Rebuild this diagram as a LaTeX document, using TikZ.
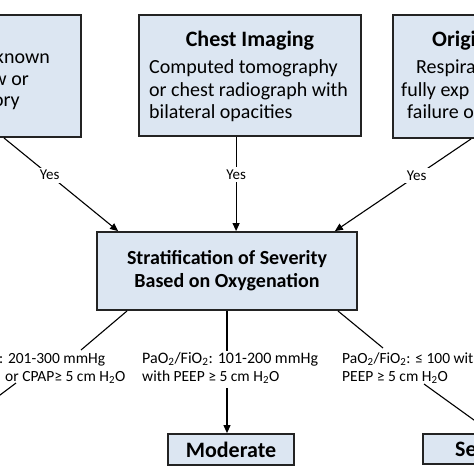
\documentclass[tikz,border=0pt]{standalone}
\usepackage{fontspec}
\setmainfont{Carlito}
\usetikzlibrary{arrows.meta,calc}
\definecolor{boxblue}{RGB}{220,230,242}
\definecolor{boxline}{RGB}{35,35,35}
\begin{document}
\begin{tikzpicture}[x=1pt,y=-1pt,
  box/.style={draw=boxline, fill=boxblue, line width=1.8pt, inner sep=0pt},
  body/.style={font=\fontsize{20}{22.5}\selectfont, inner sep=0pt, anchor=base west},
  ttl/.style={font=\bfseries\fontsize{22}{26}\selectfont, inner sep=0pt, anchor=base},
  yes/.style={font=\fontsize{15}{17}\selectfont, fill=white, inner sep=2.5pt},
  crit/.style={font=\fontsize{15.5}{18}\selectfont, inner sep=0pt, anchor=base west},
  conn/.style={line width=1.1pt, draw=black},
  arr/.style={conn, -{Triangle[length=8pt,width=7pt]}}]
\useasboundingbox (0,0) rectangle (474,474);
\fill[white] (0,0) rectangle (474,474);
\clip (0,0) rectangle (474,474);

% boxes
\node[box, minimum width=181pt, minimum height=122pt] (timebox) at (-9.5,76) {};
\node[box, minimum width=222pt, minimum height=121pt] (chestbox) at (250,75.5) {};
\node[box, minimum width=186pt, minimum height=123pt] (originbox) at (486,76.5) {};
\node[box, minimum width=260pt, minimum height=78pt, align=center,
      font=\bfseries\fontsize{20}{23}\selectfont] (strat) at (227,271)
      {Stratification of Severity\\Based on Oxygenation};
\node[box, minimum width=126pt, minimum height=31pt,
      font=\bfseries\fontsize{22}{26}\selectfont] (moderate) at (231,449.5) {Moderate};
\node[box, minimum width=126pt, minimum height=30pt] (severe) at (486,449) {};
\node[ttl, anchor=base west] (severetxt) at (455,456.5) {Se};

% box texts
\node[ttl] (chestttl) at (250,46.5) {Chest Imaging};
\node[body] (chest1) at (149,73) {Computed tomography};
\node[body] (chest2) at (149,96) {or chest radiograph with};
\node[body] (chest3) at (149,118.5) {bilateral opacities};

\node[body, anchor=base east] (time1) at (50,63) {known};
\node[body, anchor=base east] (time2) at (29,85) {w or};
\node[body, anchor=base east] (time3) at (20,106) {ory};

\node[ttl, anchor=base west] (origttl) at (432,46.5) {Origi};
\node[body] (orig1) at (416,73) {Respira};
\node[body] (orig2) at (401,96) {fully exp};
\node[body] (orig3) at (407,118.5) {failure o};

% Yes connectors
\draw[arr] ($(timebox.south east)+(-78,0)$) -- node[yes,pos=0.4]{Yes} ($(strat.north west)+(22,0)$);
\draw[arr] ($(chestbox.south west)+(98,0)$) -- node[yes,pos=0.4]{Yes} ($(strat.north west)+(140,0)$);
\draw[arr] ($(originbox.south west)+(79,0)$) -- node[yes,pos=0.4]{Yes} ($(strat.north east)+(-23,0)$);

% criteria labels
\node[crit] (mild1) at (-1,363) {: 201-300 mmHg};
\node[crit] (mild2) at (5,381) {or CPAP≥ 5 cm H\textsubscript{2}O};
\node[crit, font=\fontsize{16}{18}\selectfont] (modlab1) at (142,363) {PaO\textsubscript{2}/FiO\textsubscript{2}:\hspace{5pt}101-200 mmHg};
\node[crit] (modlab2) at (142,381) {with PEEP ≥ 5 cm H\textsubscript{2}O};
\node[crit] (sevlab1) at (342,363) {PaO\textsubscript{2}/FiO\textsubscript{2}: ≤ 100 with};
\node[crit] (sevlab2) at (342,381) {PEEP ≥ 5 cm H\textsubscript{2}O};

\coordinate (mildin) at (81,350);
\coordinate (mildout) at (16,383);
\coordinate (mildtop) at (-52,434);
\coordinate (sevin) at (383,348);
\coordinate (sevout) at (424,384);

% lower connectors
\draw[conn] ($(strat.south west)+(31,0)$) -- (mildin);
\draw[arr] (mildout) -- (mildtop);
\draw[conn] (strat.south) -- ($(strat.south)+(0,40)$);
\draw[arr] ($(strat.south)+(0,77)$) -- (strat.south |- moderate.north);
\draw[conn] ($(strat.south east)+(-20,0)$) -- (sevin);
\draw[arr] (sevout) -- ($(severe.north west)+(70,0)$);
\end{tikzpicture}
\end{document}
